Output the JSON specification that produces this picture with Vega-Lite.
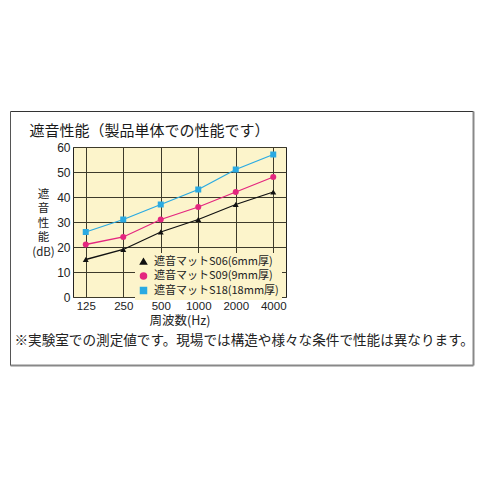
{
  "$schema": "https://vega.github.io/schema/vega-lite/v6.json",
  "width": 213,
  "height": 150,
  "autosize": "none",
  "padding": {"left": 73, "top": 147, "right": 193, "bottom": 182},
  "background": "white",
  "config": {
    "view": {"fill": "#fcf4cb", "stroke": "#222", "strokeWidth": 1},
    "font": "Noto Sans CJK JP"
  },
  "data": {
    "values": [
      {"freq": "125", "series": "遮音マットS06(6mm厚)", "db": 15},
      {"freq": "250", "series": "遮音マットS06(6mm厚)", "db": 19},
      {"freq": "500", "series": "遮音マットS06(6mm厚)", "db": 26},
      {"freq": "1000", "series": "遮音マットS06(6mm厚)", "db": 31},
      {"freq": "2000", "series": "遮音マットS06(6mm厚)", "db": 37},
      {"freq": "4000", "series": "遮音マットS06(6mm厚)", "db": 42},
      {"freq": "125", "series": "遮音マットS09(9mm厚)", "db": 21},
      {"freq": "250", "series": "遮音マットS09(9mm厚)", "db": 24},
      {"freq": "500", "series": "遮音マットS09(9mm厚)", "db": 31},
      {"freq": "1000", "series": "遮音マットS09(9mm厚)", "db": 36},
      {"freq": "2000", "series": "遮音マットS09(9mm厚)", "db": 42},
      {"freq": "4000", "series": "遮音マットS09(9mm厚)", "db": 48},
      {"freq": "125", "series": "遮音マットS18(18mm厚)", "db": 26},
      {"freq": "250", "series": "遮音マットS18(18mm厚)", "db": 31},
      {"freq": "500", "series": "遮音マットS18(18mm厚)", "db": 37},
      {"freq": "1000", "series": "遮音マットS18(18mm厚)", "db": 43},
      {"freq": "2000", "series": "遮音マットS18(18mm厚)", "db": 51},
      {"freq": "4000", "series": "遮音マットS18(18mm厚)", "db": 57}
    ]
  },
  "resolve": {"scale": {"x": "independent", "y": "independent"}},
  "layer": [
    {
      "encoding": {
        "x": {
          "field": "freq",
          "type": "ordinal",
          "scale": {"type": "point", "padding": 0.34, "domain": ["125", "250", "500", "1000", "2000", "4000"]},
          "axis": {
            "title": "周波数(Hz)",
            "titleFontSize": 12.5,
            "titleFontWeight": "normal",
            "titleColor": "#222",
            "titlePadding": 3,
            "labelAngle": 0,
            "labelFont": "Liberation Sans",
            "labelFontSize": 11.5,
            "labelColor": "#222",
            "labelPadding": 3,
            "ticks": false,
            "domain": false,
            "grid": true,
            "gridColor": "#3d3a2a",
            "gridOpacity": 1
          }
        },
        "y": {
          "field": "db",
          "type": "quantitative",
          "scale": {"domain": [0, 60]},
          "axis": {
            "values": [0, 10, 20, 30, 40, 50, 60],
            "grid": true,
            "gridColor": "#3d3a2a",
            "gridOpacity": 1,
            "ticks": false,
            "domain": false,
            "labelFont": "Liberation Sans",
            "labelFontSize": 12,
            "labelColor": "#222",
            "labelPadding": 3,
            "title": ["遮", "音", "性", "能", "(dB)"],
            "titleAngle": 0,
            "titleX": -30,
            "titleY": 41,
            "titleAlign": "center",
            "titleBaseline": "top",
            "titleFontSize": 11.5,
            "titleLineHeight": 14.5,
            "titleFontWeight": "normal",
            "titleColor": "#222"
          }
        },
        "color": {
          "field": "series",
          "type": "nominal",
          "scale": {
            "domain": ["遮音マットS06(6mm厚)", "遮音マットS09(9mm厚)", "遮音マットS18(18mm厚)"],
            "range": ["#111111", "#e4267f", "#2aaae2"]
          },
          "legend": {
            "orient": "none",
            "legendX": 62,
            "legendY": 106,
            "title": null,
            "fillColor": "#fcf4cb",
            "padding": 3,
            "rowPadding": 1.5,
            "labelFontSize": 11,
            "labelColor": "#222",
            "labelOffset": 5,
            "symbolSize": 36
          }
        }
      },
      "layer": [
        {"mark": {"type": "line", "strokeWidth": 1.3}},
        {
          "mark": {"type": "point", "filled": true, "size": 36, "opacity": 1},
          "encoding": {
            "shape": {
              "field": "series",
              "type": "nominal",
              "scale": {
                "domain": ["遮音マットS06(6mm厚)", "遮音マットS09(9mm厚)", "遮音マットS18(18mm厚)"],
                "range": ["triangle-up", "circle", "square"]
              },
              "legend": {
                "orient": "none",
                "legendX": 62,
                "legendY": 106,
                "title": null,
                "fillColor": "#fcf4cb",
                "padding": 3,
                "rowPadding": 1.5,
                "labelFontSize": 11,
                "labelColor": "#222",
                "labelOffset": 5,
                "symbolSize": 36
              }
            }
          }
        }
      ]
    },
    {
      "mark": {"type": "point", "opacity": 0},
      "encoding": {
        "x": {
          "field": "freq",
          "type": "ordinal",
          "scale": {"type": "point", "range": [-63, 400], "domain": ["125", "250", "500", "1000", "2000", "4000"]},
          "axis": {
            "orient": "top",
            "offset": 36,
            "domainColor": "#333",
            "domainWidth": 1,
            "ticks": false,
            "labels": false,
            "grid": false,
            "title": "遮音性能（製品単体での性能です）",
            "titleX": -44,
            "titleY": 19,
            "titleAlign": "left",
            "titleBaseline": "middle",
            "titleFontSize": 15,
            "titleFontWeight": "normal",
            "titleColor": "#1a1a1a"
          }
        },
        "y": {
          "field": "db",
          "type": "quantitative",
          "scale": {"domain": [0, 60], "range": [218, -36]},
          "axis": {
            "orient": "left",
            "offset": 63,
            "domainColor": "#555",
            "domainWidth": 1,
            "ticks": false,
            "labels": false,
            "grid": false,
            "title": null
          }
        }
      }
    },
    {
      "mark": {"type": "point", "opacity": 0},
      "encoding": {
        "x": {
          "field": "freq",
          "type": "ordinal",
          "scale": {"type": "point", "range": [-63, 400], "domain": ["125", "250", "500", "1000", "2000", "4000"]},
          "axis": {
            "orient": "bottom",
            "offset": 68,
            "domainColor": "#888",
            "domainWidth": 2,
            "ticks": false,
            "labels": false,
            "grid": false,
            "title": "※実験室での測定値です。現場では構造や様々な条件で性能は異なります。",
            "titleX": -59,
            "titleY": -25,
            "titleAlign": "left",
            "titleBaseline": "middle",
            "titleFontSize": 13.6,
            "titleFontWeight": "normal",
            "titleColor": "#222"
          }
        },
        "y": {
          "field": "db",
          "type": "quantitative",
          "scale": {"domain": [0, 60], "range": [218, -36]},
          "axis": {
            "orient": "right",
            "offset": 187,
            "domainColor": "#888",
            "domainWidth": 2,
            "ticks": false,
            "labels": false,
            "grid": false,
            "title": null
          }
        }
      }
    }
  ]
}
